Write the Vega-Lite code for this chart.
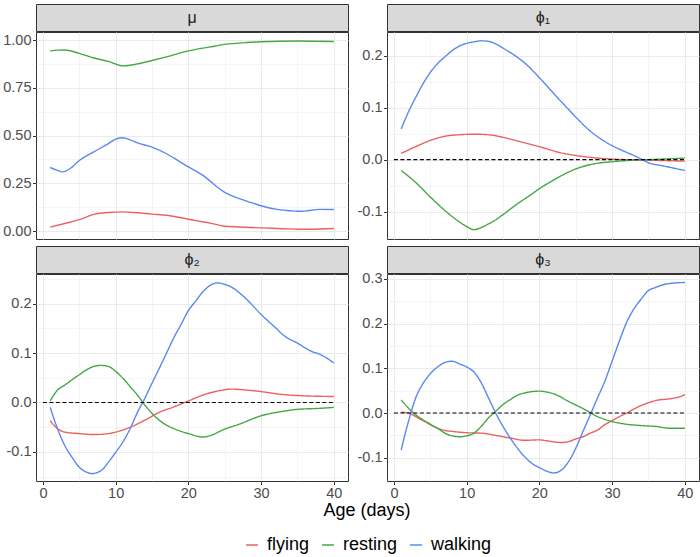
{
  "$schema": "https://vega.github.io/schema/vega-lite/v6.json",
  "padding": {"left": 2, "top": 3, "right": 0, "bottom": 0},
  "datasets": {
    "d": [
      {"panel":"mu","state":"flying","age":1,"value":0.021},{"panel":"mu","state":"flying","age":3,"value":0.04},{"panel":"mu","state":"flying","age":5,"value":0.06},{"panel":"mu","state":"flying","age":7,"value":0.088},{"panel":"mu","state":"flying","age":9,"value":0.098},{"panel":"mu","state":"flying","age":11,"value":0.101},{"panel":"mu","state":"flying","age":13,"value":0.096},{"panel":"mu","state":"flying","age":15,"value":0.089},{"panel":"mu","state":"flying","age":17,"value":0.083},{"panel":"mu","state":"flying","age":19,"value":0.07},{"panel":"mu","state":"flying","age":21,"value":0.055},{"panel":"mu","state":"flying","age":23,"value":0.042},{"panel":"mu","state":"flying","age":25,"value":0.026},{"panel":"mu","state":"flying","age":27,"value":0.022},{"panel":"mu","state":"flying","age":30,"value":0.017},{"panel":"mu","state":"flying","age":33,"value":0.013},{"panel":"mu","state":"flying","age":35,"value":0.01},{"panel":"mu","state":"flying","age":37,"value":0.01},{"panel":"mu","state":"flying","age":40,"value":0.014},
      {"panel":"mu","state":"resting","age":1,"value":0.943},{"panel":"mu","state":"resting","age":2,"value":0.947},{"panel":"mu","state":"resting","age":3,"value":0.948},{"panel":"mu","state":"resting","age":5,"value":0.93},{"panel":"mu","state":"resting","age":7,"value":0.906},{"panel":"mu","state":"resting","age":9,"value":0.888},{"panel":"mu","state":"resting","age":11,"value":0.865},{"panel":"mu","state":"resting","age":13,"value":0.875},{"panel":"mu","state":"resting","age":15,"value":0.893},{"panel":"mu","state":"resting","age":17,"value":0.912},{"panel":"mu","state":"resting","age":20,"value":0.943},{"panel":"mu","state":"resting","age":23,"value":0.964},{"panel":"mu","state":"resting","age":25,"value":0.977},{"panel":"mu","state":"resting","age":28,"value":0.987},{"panel":"mu","state":"resting","age":30,"value":0.991},{"panel":"mu","state":"resting","age":35,"value":0.995},{"panel":"mu","state":"resting","age":40,"value":0.992},
      {"panel":"mu","state":"walking","age":1,"value":0.333},{"panel":"mu","state":"walking","age":2,"value":0.318},{"panel":"mu","state":"walking","age":2.7,"value":0.31},{"panel":"mu","state":"walking","age":4,"value":0.335},{"panel":"mu","state":"walking","age":5,"value":0.37},{"panel":"mu","state":"walking","age":7,"value":0.415},{"panel":"mu","state":"walking","age":9,"value":0.458},{"panel":"mu","state":"walking","age":10,"value":0.482},{"panel":"mu","state":"walking","age":11,"value":0.489},{"panel":"mu","state":"walking","age":12,"value":0.478},{"panel":"mu","state":"walking","age":13,"value":0.462},{"panel":"mu","state":"walking","age":15,"value":0.44},{"panel":"mu","state":"walking","age":17,"value":0.405},{"panel":"mu","state":"walking","age":18,"value":0.383},{"panel":"mu","state":"walking","age":20,"value":0.336},{"panel":"mu","state":"walking","age":21,"value":0.315},{"panel":"mu","state":"walking","age":22,"value":0.292},{"panel":"mu","state":"walking","age":23,"value":0.262},{"panel":"mu","state":"walking","age":24,"value":0.23},{"panel":"mu","state":"walking","age":25,"value":0.203},{"panel":"mu","state":"walking","age":26,"value":0.185},{"panel":"mu","state":"walking","age":27,"value":0.17},{"panel":"mu","state":"walking","age":28,"value":0.157},{"panel":"mu","state":"walking","age":29,"value":0.145},{"panel":"mu","state":"walking","age":30,"value":0.133},{"panel":"mu","state":"walking","age":32,"value":0.115},{"panel":"mu","state":"walking","age":34,"value":0.107},{"panel":"mu","state":"walking","age":35,"value":0.104},{"panel":"mu","state":"walking","age":36,"value":0.105},{"panel":"mu","state":"walking","age":38,"value":0.114},{"panel":"mu","state":"walking","age":40,"value":0.113},

      {"panel":"phi1","state":"flying","age":1,"value":0.012},{"panel":"phi1","state":"flying","age":3,"value":0.025},{"panel":"phi1","state":"flying","age":5,"value":0.037},{"panel":"phi1","state":"flying","age":7,"value":0.045},{"panel":"phi1","state":"flying","age":9,"value":0.048},{"panel":"phi1","state":"flying","age":11,"value":0.049},{"panel":"phi1","state":"flying","age":13,"value":0.048},{"panel":"phi1","state":"flying","age":15,"value":0.043},{"panel":"phi1","state":"flying","age":17,"value":0.036},{"panel":"phi1","state":"flying","age":20,"value":0.025},{"panel":"phi1","state":"flying","age":23,"value":0.013},{"panel":"phi1","state":"flying","age":25,"value":0.008},{"panel":"phi1","state":"flying","age":28,"value":0.003},{"panel":"phi1","state":"flying","age":30,"value":0.001},{"panel":"phi1","state":"flying","age":35,"value":-0.001},{"panel":"phi1","state":"flying","age":40,"value":-0.003},
      {"panel":"phi1","state":"resting","age":1,"value":-0.021},{"panel":"phi1","state":"resting","age":3,"value":-0.044},{"panel":"phi1","state":"resting","age":5,"value":-0.072},{"panel":"phi1","state":"resting","age":7,"value":-0.098},{"panel":"phi1","state":"resting","age":9,"value":-0.12},{"panel":"phi1","state":"resting","age":10,"value":-0.129},{"panel":"phi1","state":"resting","age":11,"value":-0.135},{"panel":"phi1","state":"resting","age":12,"value":-0.131},{"panel":"phi1","state":"resting","age":13,"value":-0.124},{"panel":"phi1","state":"resting","age":14,"value":-0.116},{"panel":"phi1","state":"resting","age":15,"value":-0.106},{"panel":"phi1","state":"resting","age":17,"value":-0.085},{"panel":"phi1","state":"resting","age":19,"value":-0.066},{"panel":"phi1","state":"resting","age":20,"value":-0.056},{"panel":"phi1","state":"resting","age":22,"value":-0.039},{"panel":"phi1","state":"resting","age":25,"value":-0.018},{"panel":"phi1","state":"resting","age":28,"value":-0.007},{"panel":"phi1","state":"resting","age":30,"value":-0.004},{"panel":"phi1","state":"resting","age":33,"value":-0.001},{"panel":"phi1","state":"resting","age":35,"value":0.0},{"panel":"phi1","state":"resting","age":40,"value":0.003},
      {"panel":"phi1","state":"walking","age":1,"value":0.059},{"panel":"phi1","state":"walking","age":2,"value":0.092},{"panel":"phi1","state":"walking","age":3,"value":0.12},{"panel":"phi1","state":"walking","age":4,"value":0.146},{"panel":"phi1","state":"walking","age":5,"value":0.168},{"panel":"phi1","state":"walking","age":6,"value":0.185},{"panel":"phi1","state":"walking","age":7,"value":0.198},{"panel":"phi1","state":"walking","age":8,"value":0.21},{"panel":"phi1","state":"walking","age":9,"value":0.219},{"panel":"phi1","state":"walking","age":10,"value":0.224},{"panel":"phi1","state":"walking","age":11,"value":0.227},{"panel":"phi1","state":"walking","age":12,"value":0.229},{"panel":"phi1","state":"walking","age":13,"value":0.228},{"panel":"phi1","state":"walking","age":14,"value":0.223},{"panel":"phi1","state":"walking","age":15,"value":0.215},{"panel":"phi1","state":"walking","age":17,"value":0.197},{"panel":"phi1","state":"walking","age":18,"value":0.186},{"panel":"phi1","state":"walking","age":20,"value":0.158},{"panel":"phi1","state":"walking","age":22,"value":0.127},{"panel":"phi1","state":"walking","age":24,"value":0.097},{"panel":"phi1","state":"walking","age":25,"value":0.082},{"panel":"phi1","state":"walking","age":27,"value":0.055},{"panel":"phi1","state":"walking","age":29,"value":0.035},{"panel":"phi1","state":"walking","age":30,"value":0.027},{"panel":"phi1","state":"walking","age":32,"value":0.014},{"panel":"phi1","state":"walking","age":33,"value":0.008},{"panel":"phi1","state":"walking","age":34,"value":0.001},{"panel":"phi1","state":"walking","age":35,"value":-0.006},{"panel":"phi1","state":"walking","age":37,"value":-0.012},{"panel":"phi1","state":"walking","age":40,"value":-0.021},
      {"panel":"phi1","state":"zero","age":0,"value":0},{"panel":"phi1","state":"zero","age":40,"value":0},

      {"panel":"phi2","state":"flying","age":1,"value":-0.037},{"panel":"phi2","state":"flying","age":2,"value":-0.053},{"panel":"phi2","state":"flying","age":3,"value":-0.06},{"panel":"phi2","state":"flying","age":5,"value":-0.063},{"panel":"phi2","state":"flying","age":7,"value":-0.065},{"panel":"phi2","state":"flying","age":9,"value":-0.063},{"panel":"phi2","state":"flying","age":10,"value":-0.06},{"panel":"phi2","state":"flying","age":12,"value":-0.05},{"panel":"phi2","state":"flying","age":14,"value":-0.036},{"panel":"phi2","state":"flying","age":16,"value":-0.02},{"panel":"phi2","state":"flying","age":18,"value":-0.009},{"panel":"phi2","state":"flying","age":20,"value":0.003},{"panel":"phi2","state":"flying","age":22,"value":0.015},{"panel":"phi2","state":"flying","age":24,"value":0.023},{"panel":"phi2","state":"flying","age":26,"value":0.027},{"panel":"phi2","state":"flying","age":28,"value":0.025},{"panel":"phi2","state":"flying","age":30,"value":0.022},{"panel":"phi2","state":"flying","age":33,"value":0.016},{"panel":"phi2","state":"flying","age":35,"value":0.014},{"panel":"phi2","state":"flying","age":40,"value":0.012},
      {"panel":"phi2","state":"resting","age":1,"value":0.003},{"panel":"phi2","state":"resting","age":2,"value":0.025},{"panel":"phi2","state":"resting","age":3,"value":0.035},{"panel":"phi2","state":"resting","age":4,"value":0.046},{"panel":"phi2","state":"resting","age":5,"value":0.056},{"panel":"phi2","state":"resting","age":6,"value":0.066},{"panel":"phi2","state":"resting","age":7,"value":0.073},{"panel":"phi2","state":"resting","age":8,"value":0.075},{"panel":"phi2","state":"resting","age":9,"value":0.073},{"panel":"phi2","state":"resting","age":10,"value":0.063},{"panel":"phi2","state":"resting","age":11,"value":0.049},{"panel":"phi2","state":"resting","age":12,"value":0.032},{"panel":"phi2","state":"resting","age":13,"value":0.015},{"panel":"phi2","state":"resting","age":14,"value":-0.005},{"panel":"phi2","state":"resting","age":15,"value":-0.022},{"panel":"phi2","state":"resting","age":16,"value":-0.036},{"panel":"phi2","state":"resting","age":17,"value":-0.046},{"panel":"phi2","state":"resting","age":18,"value":-0.053},{"panel":"phi2","state":"resting","age":20,"value":-0.063},{"panel":"phi2","state":"resting","age":22,"value":-0.07},{"panel":"phi2","state":"resting","age":23,"value":-0.067},{"panel":"phi2","state":"resting","age":25,"value":-0.054},{"panel":"phi2","state":"resting","age":27,"value":-0.044},{"panel":"phi2","state":"resting","age":30,"value":-0.027},{"panel":"phi2","state":"resting","age":33,"value":-0.018},{"panel":"phi2","state":"resting","age":35,"value":-0.014},{"panel":"phi2","state":"resting","age":38,"value":-0.012},{"panel":"phi2","state":"resting","age":40,"value":-0.01},
      {"panel":"phi2","state":"walking","age":1,"value":-0.01},{"panel":"phi2","state":"walking","age":2,"value":-0.053},{"panel":"phi2","state":"walking","age":3,"value":-0.087},{"panel":"phi2","state":"walking","age":4,"value":-0.111},{"panel":"phi2","state":"walking","age":5,"value":-0.131},{"panel":"phi2","state":"walking","age":6,"value":-0.141},{"panel":"phi2","state":"walking","age":6.7,"value":-0.144},{"panel":"phi2","state":"walking","age":8,"value":-0.138},{"panel":"phi2","state":"walking","age":9,"value":-0.121},{"panel":"phi2","state":"walking","age":10,"value":-0.101},{"panel":"phi2","state":"walking","age":11,"value":-0.08},{"panel":"phi2","state":"walking","age":12,"value":-0.053},{"panel":"phi2","state":"walking","age":13,"value":-0.02},{"panel":"phi2","state":"walking","age":14,"value":0.008},{"panel":"phi2","state":"walking","age":15,"value":0.039},{"panel":"phi2","state":"walking","age":16,"value":0.069},{"panel":"phi2","state":"walking","age":17,"value":0.1},{"panel":"phi2","state":"walking","age":18,"value":0.131},{"panel":"phi2","state":"walking","age":19,"value":0.158},{"panel":"phi2","state":"walking","age":20,"value":0.186},{"panel":"phi2","state":"walking","age":21,"value":0.205},{"panel":"phi2","state":"walking","age":22,"value":0.224},{"panel":"phi2","state":"walking","age":23,"value":0.237},{"panel":"phi2","state":"walking","age":24,"value":0.242},{"panel":"phi2","state":"walking","age":25,"value":0.239},{"panel":"phi2","state":"walking","age":26,"value":0.233},{"panel":"phi2","state":"walking","age":27,"value":0.222},{"panel":"phi2","state":"walking","age":28,"value":0.209},{"panel":"phi2","state":"walking","age":30,"value":0.178},{"panel":"phi2","state":"walking","age":32,"value":0.151},{"panel":"phi2","state":"walking","age":33,"value":0.137},{"panel":"phi2","state":"walking","age":35,"value":0.12},{"panel":"phi2","state":"walking","age":37,"value":0.103},{"panel":"phi2","state":"walking","age":38,"value":0.098},{"panel":"phi2","state":"walking","age":40,"value":0.08},
      {"panel":"phi2","state":"zero","age":0,"value":0},{"panel":"phi2","state":"zero","age":40,"value":0},

      {"panel":"phi3","state":"flying","age":1,"value":0.002},{"panel":"phi3","state":"flying","age":2,"value":0.0},{"panel":"phi3","state":"flying","age":3,"value":-0.008},{"panel":"phi3","state":"flying","age":4,"value":-0.017},{"panel":"phi3","state":"flying","age":5,"value":-0.026},{"panel":"phi3","state":"flying","age":6,"value":-0.034},{"panel":"phi3","state":"flying","age":7,"value":-0.039},{"panel":"phi3","state":"flying","age":8,"value":-0.041},{"panel":"phi3","state":"flying","age":10,"value":-0.044},{"panel":"phi3","state":"flying","age":12,"value":-0.045},{"panel":"phi3","state":"flying","age":14,"value":-0.05},{"panel":"phi3","state":"flying","age":16,"value":-0.056},{"panel":"phi3","state":"flying","age":18,"value":-0.061},{"panel":"phi3","state":"flying","age":20,"value":-0.06},{"panel":"phi3","state":"flying","age":21,"value":-0.062},{"panel":"phi3","state":"flying","age":23,"value":-0.066},{"panel":"phi3","state":"flying","age":24,"value":-0.064},{"panel":"phi3","state":"flying","age":25,"value":-0.058},{"panel":"phi3","state":"flying","age":26,"value":-0.053},{"panel":"phi3","state":"flying","age":27,"value":-0.045},{"panel":"phi3","state":"flying","age":28,"value":-0.038},{"panel":"phi3","state":"flying","age":29,"value":-0.026},{"panel":"phi3","state":"flying","age":30,"value":-0.017},{"panel":"phi3","state":"flying","age":31,"value":-0.008},{"panel":"phi3","state":"flying","age":32,"value":0.0},{"panel":"phi3","state":"flying","age":33,"value":0.009},{"panel":"phi3","state":"flying","age":34,"value":0.017},{"panel":"phi3","state":"flying","age":35,"value":0.023},{"panel":"phi3","state":"flying","age":36,"value":0.028},{"panel":"phi3","state":"flying","age":38,"value":0.032},{"panel":"phi3","state":"flying","age":39,"value":0.035},{"panel":"phi3","state":"flying","age":40,"value":0.041},
      {"panel":"phi3","state":"resting","age":1,"value":0.029},{"panel":"phi3","state":"resting","age":2,"value":0.011},{"panel":"phi3","state":"resting","age":3,"value":-0.004},{"panel":"phi3","state":"resting","age":4,"value":-0.015},{"panel":"phi3","state":"resting","age":5,"value":-0.025},{"panel":"phi3","state":"resting","age":6,"value":-0.034},{"panel":"phi3","state":"resting","age":7,"value":-0.045},{"panel":"phi3","state":"resting","age":8,"value":-0.051},{"panel":"phi3","state":"resting","age":9,"value":-0.053},{"panel":"phi3","state":"resting","age":10,"value":-0.051},{"panel":"phi3","state":"resting","age":11,"value":-0.045},{"panel":"phi3","state":"resting","age":12,"value":-0.03},{"panel":"phi3","state":"resting","age":13,"value":-0.011},{"panel":"phi3","state":"resting","age":14,"value":0.004},{"panel":"phi3","state":"resting","age":15,"value":0.019},{"panel":"phi3","state":"resting","age":16,"value":0.03},{"panel":"phi3","state":"resting","age":17,"value":0.04},{"panel":"phi3","state":"resting","age":18,"value":0.045},{"panel":"phi3","state":"resting","age":20,"value":0.049},{"panel":"phi3","state":"resting","age":21,"value":0.047},{"panel":"phi3","state":"resting","age":22,"value":0.043},{"panel":"phi3","state":"resting","age":24,"value":0.026},{"panel":"phi3","state":"resting","age":26,"value":0.01},{"panel":"phi3","state":"resting","age":28,"value":-0.008},{"panel":"phi3","state":"resting","age":30,"value":-0.019},{"panel":"phi3","state":"resting","age":32,"value":-0.025},{"panel":"phi3","state":"resting","age":34,"value":-0.028},{"panel":"phi3","state":"resting","age":36,"value":-0.03},{"panel":"phi3","state":"resting","age":38,"value":-0.034},{"panel":"phi3","state":"resting","age":40,"value":-0.034},
      {"panel":"phi3","state":"walking","age":1,"value":-0.083},{"panel":"phi3","state":"walking","age":1.5,"value":-0.049},{"panel":"phi3","state":"walking","age":2,"value":-0.019},{"panel":"phi3","state":"walking","age":3,"value":0.034},{"panel":"phi3","state":"walking","age":4,"value":0.066},{"panel":"phi3","state":"walking","age":5,"value":0.088},{"panel":"phi3","state":"walking","age":6,"value":0.103},{"panel":"phi3","state":"walking","age":7,"value":0.113},{"panel":"phi3","state":"walking","age":8,"value":0.116},{"panel":"phi3","state":"walking","age":9,"value":0.11},{"panel":"phi3","state":"walking","age":10,"value":0.103},{"panel":"phi3","state":"walking","age":11,"value":0.092},{"panel":"phi3","state":"walking","age":12,"value":0.068},{"panel":"phi3","state":"walking","age":13,"value":0.034},{"panel":"phi3","state":"walking","age":14,"value":0.0},{"panel":"phi3","state":"walking","age":15,"value":-0.03},{"panel":"phi3","state":"walking","age":16,"value":-0.056},{"panel":"phi3","state":"walking","age":17,"value":-0.079},{"panel":"phi3","state":"walking","age":18,"value":-0.098},{"panel":"phi3","state":"walking","age":19,"value":-0.113},{"panel":"phi3","state":"walking","age":20,"value":-0.122},{"panel":"phi3","state":"walking","age":21,"value":-0.13},{"panel":"phi3","state":"walking","age":22,"value":-0.134},{"panel":"phi3","state":"walking","age":23,"value":-0.128},{"panel":"phi3","state":"walking","age":24,"value":-0.109},{"panel":"phi3","state":"walking","age":25,"value":-0.079},{"panel":"phi3","state":"walking","age":26,"value":-0.041},{"panel":"phi3","state":"walking","age":27,"value":-0.004},{"panel":"phi3","state":"walking","age":28,"value":0.034},{"panel":"phi3","state":"walking","age":29,"value":0.071},{"panel":"phi3","state":"walking","age":30,"value":0.116},{"panel":"phi3","state":"walking","age":31,"value":0.161},{"panel":"phi3","state":"walking","age":32,"value":0.203},{"panel":"phi3","state":"walking","age":33,"value":0.233},{"panel":"phi3","state":"walking","age":34,"value":0.255},{"panel":"phi3","state":"walking","age":35,"value":0.274},{"panel":"phi3","state":"walking","age":36,"value":0.281},{"panel":"phi3","state":"walking","age":37,"value":0.287},{"panel":"phi3","state":"walking","age":38,"value":0.29},{"panel":"phi3","state":"walking","age":40,"value":0.292},
      {"panel":"phi3","state":"zero","age":0,"value":0},{"panel":"phi3","state":"zero","age":40,"value":0}
    ]
  },
  "config": {
    "font": "Liberation Sans",
    "locale": {"number": {"decimal": ".", "thousands": ",", "grouping": [3], "currency": ["$", ""], "minus": "-"}},
    "view": {"stroke": "#333333", "strokeWidth": 1},
    "axis": {"domain": false, "gridColor": "#ebebeb", "tickColor": "#333333", "tickSize": 3.5, "tickWidth": 1, "labelColor": "#4d4d4d", "labelFontSize": 14.5, "labelPadding": 1.5, "labelFont": "Liberation Sans"},
    "axisY": {"minExtent": 33, "maxExtent": 33},
    "line": {"interpolate": "monotone"},
    "legend": {"orient": "none", "legendX": 207, "legendY": 498, "direction": "horizontal", "padding": 0, "titleOrient": "top", "titleAnchor": "middle", "titleFontSize": 18, "titleFontWeight": "normal", "titleColor": "black", "titlePadding": 16, "titleFont": "Liberation Sans", "labelFontSize": 18, "labelColor": "black", "labelFont": "Liberation Sans", "labelOffset": 6, "columnPadding": 9, "symbolType": "stroke", "symbolSize": 144, "symbolStrokeWidth": 1.5}
  },
  "spacing": 5,
  "vconcat": [
    {
      "spacing": 4,
      "hconcat": [
        {
          "spacing": 1,
          "bounds": "flush",
          "vconcat": [
            {"width": 312, "height": 27, "view": {"fill": "#d9d9d9", "stroke": "#333333"}, "data": {"values": [{"label": "μ"}]}, "mark": {"type": "text", "fontSize": 16, "color": "#1a1a1a"}, "encoding": {"text": {"field": "label"}}},
            {
              "width": 312, "height": 207,
              "data": {"name": "d"},
              "transform": [{"filter": "datum.panel == 'mu'"}],
              "mark": {"type": "line"},
              "encoding": {
                "x": {"field": "age", "type": "quantitative", "scale": {"domain": [-0.95, 41.95], "nice": false, "zero": false}, "axis": {"title": null, "labels": false, "ticks": false, "tickSize": 0, "labelPadding": 0, "minExtent": 0, "maxExtent": 0, "values": [0,5,10,15,20,25,30,35,40], "gridWidth": {"condition": {"test": "datum.value % 10 == 0", "value": 1}, "value": 0.5}}},
                "y": {"field": "value", "type": "quantitative", "scale": {"domain": [-0.041, 1.042], "nice": false, "zero": false}, "axis": {"title": null, "values": [0,0.125,0.25,0.375,0.5,0.625,0.75,0.875,1], "format": ".2f", "labelExpr": "abs(datum.value*4-round(datum.value*4))<1e-6 ? datum.label : ''", "gridWidth": {"condition": {"test": "abs(datum.value*4-round(datum.value*4))<1e-6", "value": 1}, "value": 0.5}, "tickOpacity": {"condition": {"test": "abs(datum.value*4-round(datum.value*4))<1e-6", "value": 1}, "value": 0}}},
                "color": {"field": "state", "type": "nominal", "title": "Age (days)", "scale": {"domain": ["flying","resting","walking"], "range": ["#E8625F","#45A845","#5B88F0"]}},
                "strokeWidth": {"value": 1.4}
              }
            }
          ]
        },
        {
          "spacing": 1,
          "bounds": "flush",
          "vconcat": [
            {"width": 312, "height": 27, "view": {"fill": "#d9d9d9", "stroke": "#333333"}, "data": {"values": [{"label": "ϕ₁"}]}, "mark": {"type": "text", "fontSize": 16, "color": "#1a1a1a"}, "encoding": {"text": {"field": "label"}}},
            {
              "width": 312, "height": 207,
              "data": {"name": "d"},
              "transform": [{"filter": "datum.panel == 'phi1'"}],
              "mark": {"type": "line"},
              "encoding": {
                "x": {"field": "age", "type": "quantitative", "scale": {"domain": [-0.95, 41.95], "nice": false, "zero": false}, "axis": {"title": null, "labels": false, "ticks": false, "tickSize": 0, "labelPadding": 0, "minExtent": 0, "maxExtent": 0, "values": [0,5,10,15,20,25,30,35,40], "gridWidth": {"condition": {"test": "datum.value % 10 == 0", "value": 1}, "value": 0.5}}},
                "y": {"field": "value", "type": "quantitative", "scale": {"domain": [-0.153, 0.246], "nice": false, "zero": false}, "axis": {"title": null, "values": [-0.15,-0.1,-0.05,0,0.05,0.1,0.15,0.2], "format": ".1f", "labelExpr": "abs(datum.value*10-round(datum.value*10))<1e-6 ? datum.label : ''", "gridWidth": {"condition": {"test": "abs(datum.value*10-round(datum.value*10))<1e-6", "value": 1}, "value": 0.5}, "tickOpacity": {"condition": {"test": "abs(datum.value*10-round(datum.value*10))<1e-6", "value": 1}, "value": 0}}},
                "color": {"field": "state", "type": "nominal", "title": "Age (days)", "scale": {"domain": ["flying","resting","walking"], "range": ["#E8625F","#45A845","#5B88F0"]}, "condition": {"test": "datum.state == 'zero'", "value": "#000000"}},
                "strokeDash": {"condition": {"test": "datum.state == 'zero'", "value": [4, 2.5]}, "value": [1, 0]},
                "strokeWidth": {"condition": {"test": "datum.state == 'zero'", "value": 1.1}, "value": 1.4}
              }
            }
          ]
        }
      ]
    },
    {
      "spacing": 4,
      "hconcat": [
        {
          "spacing": 1,
          "bounds": "flush",
          "vconcat": [
            {"width": 312, "height": 27, "view": {"fill": "#d9d9d9", "stroke": "#333333"}, "data": {"values": [{"label": "ϕ₂"}]}, "mark": {"type": "text", "fontSize": 16, "color": "#1a1a1a"}, "encoding": {"text": {"field": "label"}}},
            {
              "width": 312, "height": 207,
              "data": {"name": "d"},
              "transform": [{"filter": "datum.panel == 'phi2'"}],
              "mark": {"type": "line"},
              "encoding": {
                "x": {"field": "age", "type": "quantitative", "scale": {"domain": [-0.95, 41.95], "nice": false, "zero": false}, "axis": {"title": null, "values": [0,5,10,15,20,25,30,35,40], "format": "d", "labelExpr": "datum.value % 10 == 0 ? datum.label : ''", "gridWidth": {"condition": {"test": "datum.value % 10 == 0", "value": 1}, "value": 0.5}, "tickOpacity": {"condition": {"test": "datum.value % 10 == 0", "value": 1}, "value": 0}}},
                "y": {"field": "value", "type": "quantitative", "scale": {"domain": [-0.159, 0.26], "nice": false, "zero": false}, "axis": {"title": null, "values": [-0.15,-0.1,-0.05,0,0.05,0.1,0.15,0.2,0.25], "format": ".1f", "labelExpr": "abs(datum.value*10-round(datum.value*10))<1e-6 ? datum.label : ''", "gridWidth": {"condition": {"test": "abs(datum.value*10-round(datum.value*10))<1e-6", "value": 1}, "value": 0.5}, "tickOpacity": {"condition": {"test": "abs(datum.value*10-round(datum.value*10))<1e-6", "value": 1}, "value": 0}}},
                "color": {"field": "state", "type": "nominal", "title": "Age (days)", "scale": {"domain": ["flying","resting","walking"], "range": ["#E8625F","#45A845","#5B88F0"]}, "condition": {"test": "datum.state == 'zero'", "value": "#000000"}},
                "strokeDash": {"condition": {"test": "datum.state == 'zero'", "value": [4, 2.5]}, "value": [1, 0]},
                "strokeWidth": {"condition": {"test": "datum.state == 'zero'", "value": 1.1}, "value": 1.4}
              }
            }
          ]
        },
        {
          "spacing": 1,
          "bounds": "flush",
          "vconcat": [
            {"width": 312, "height": 27, "view": {"fill": "#d9d9d9", "stroke": "#333333"}, "data": {"values": [{"label": "ϕ₃"}]}, "mark": {"type": "text", "fontSize": 16, "color": "#1a1a1a"}, "encoding": {"text": {"field": "label"}}},
            {
              "width": 312, "height": 207,
              "data": {"name": "d"},
              "transform": [{"filter": "datum.panel == 'phi3'"}],
              "mark": {"type": "line"},
              "encoding": {
                "x": {"field": "age", "type": "quantitative", "scale": {"domain": [-0.95, 41.95], "nice": false, "zero": false}, "axis": {"title": null, "values": [0,5,10,15,20,25,30,35,40], "format": "d", "labelExpr": "datum.value % 10 == 0 ? datum.label : ''", "gridWidth": {"condition": {"test": "datum.value % 10 == 0", "value": 1}, "value": 0.5}, "tickOpacity": {"condition": {"test": "datum.value % 10 == 0", "value": 1}, "value": 0}}},
                "y": {"field": "value", "type": "quantitative", "scale": {"domain": [-0.152, 0.311], "nice": false, "zero": false}, "axis": {"title": null, "values": [-0.15,-0.1,-0.05,0,0.05,0.1,0.15,0.2,0.25,0.3], "format": ".1f", "labelExpr": "abs(datum.value*10-round(datum.value*10))<1e-6 ? datum.label : ''", "gridWidth": {"condition": {"test": "abs(datum.value*10-round(datum.value*10))<1e-6", "value": 1}, "value": 0.5}, "tickOpacity": {"condition": {"test": "abs(datum.value*10-round(datum.value*10))<1e-6", "value": 1}, "value": 0}}},
                "color": {"field": "state", "type": "nominal", "title": "Age (days)", "scale": {"domain": ["flying","resting","walking"], "range": ["#E8625F","#45A845","#5B88F0"]}, "condition": {"test": "datum.state == 'zero'", "value": "#000000"}},
                "strokeDash": {"condition": {"test": "datum.state == 'zero'", "value": [4, 2.5]}, "value": [1, 0]},
                "strokeWidth": {"condition": {"test": "datum.state == 'zero'", "value": 1.1}, "value": 1.4}
              }
            }
          ]
        }
      ]
    }
  ]
}
